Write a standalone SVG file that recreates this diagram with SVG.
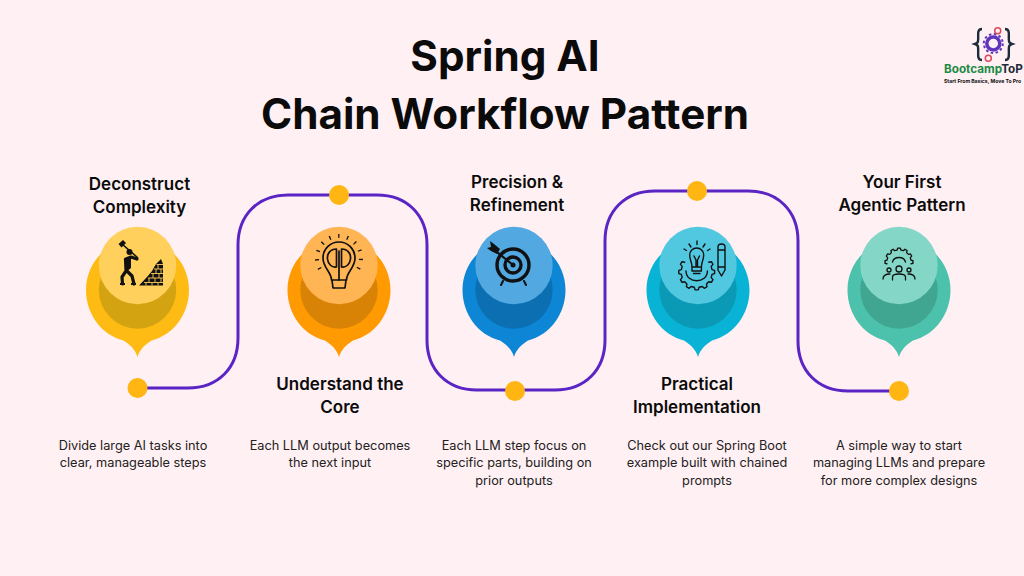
<svg xmlns="http://www.w3.org/2000/svg" width="1024" height="576" viewBox="0 0 1024 576">
<style>
text{font-family:"Inter","Liberation Sans",sans-serif;fill:#0b0b0b;text-anchor:middle}
.title{font-size:42.200px;font-weight:700}
.head{font-size:17px;font-weight:600}
.body{font-size:12.750px;font-weight:400;fill:#222}
.dot{fill:#FFB612}
.ic{fill:none;stroke:#111;stroke-width:1.600;stroke-linecap:round;stroke-linejoin:round}
.icf{fill:#111;stroke:none}
.thick{fill:none;stroke:#111;stroke-width:3.400;stroke-linecap:round;stroke-linejoin:round}
</style>
<defs>
<path id="pinbody" d="M0 67C-2 60-7 55-14 50.500C-36 45-51.500 24-51.500 0C-51.500-28.400-28.400-51.500 0-51.500C28.400-51.500 51.500-28.400 51.500 0C51.500 24 36 45 14 50.500C7 55 2 60 0 67Z"/>
</defs>
<rect width="1024" height="576" fill="#FFF0F3"/>
<g id="title"><text class="title" x="505" y="71">Spring AI</text><text class="title" x="505" y="129">Chain Workflow Pattern</text></g>
<g id="logo">
<path d="M982 29C976 29 979 37 978 41C978 43 975 44 975 44C975 44 978 45 978 47C979 52 976 60 982 60" fill="none" stroke="#1d2a3a" stroke-width="2.400"/>
<path d="M1005 29C1011 29 1008 37 1009 41C1009 43 1012 44 1012 44C1012 44 1009 45 1009 47C1008 52 1011 60 1005 60" fill="none" stroke="#1d2a3a" stroke-width="2.400"/>
<circle cx="993.300" cy="43.500" r="6.500" fill="none" stroke="#5f35bd" stroke-width="3.500"/><circle cx="993.300" cy="43.500" r="9.500" fill="none" stroke="#5f35bd" stroke-width="2" stroke-dasharray="2.500 2.500"/>
<circle cx="997.700" cy="30.700" r="3" fill="#FFF0F3" stroke="#e0485a" stroke-width="1.500"/><circle cx="988.300" cy="58.300" r="3" fill="#FFF0F3" stroke="#e0485a" stroke-width="1.500"/>
<text x="944" y="72.700" style="text-anchor:start;font-size:11.700px;font-weight:700;fill:#1c8a45">Bootcamp<tspan fill="#1d2a3a">ToP</tspan></text>
<text x="944" y="82.700" style="text-anchor:start;font-size:5.100px;font-weight:700">Start From Basics, Move To Pro</text>
</g>
<g id="connectors">
<path d="M137 388H188C218 388 238 368 238 338V245C238 215 258 195 288 195H377C407 195 427 215 427 245V340C427 370 447 390 477 390H555C585 390 605 370 605 340V241C605 211 625 191 655 191H748C778 191 798 211 798 241V341C798 371 818 391 848 391H899" fill="none" stroke="#5A25C4" stroke-width="3"/>
</g>
<g id="dots"><circle class="dot" cx="137.500" cy="388" r="10"/><circle class="dot" cx="339" cy="195" r="10"/><circle class="dot" cx="515" cy="391" r="10"/><circle class="dot" cx="697" cy="191" r="10"/><circle class="dot" cx="899" cy="391" r="10"/></g>
<g id="node1">
<use href="#pinbody" x="137.500" y="290" fill="#FDBB14"/><circle cx="137.500" cy="290" r="38.700" fill="#D4A312"/><circle cx="137.500" cy="265.500" r="38.700" fill="#FFD05C"/>
<path d="M122 244L138 258" fill="none" stroke="#111" stroke-width="1.600"/>
<path class="icf" d="M118.500 244L123 240L126 243L121.500 247.500Z"/>
<circle class="icf" cx="129.500" cy="252" r="3"/>
<path class="thick" d="M126 259L131 257L137 259M125.500 259L126 270M126 271L122 277L122.500 284M127 271L132 276L134 284" style="stroke-width:3.200"/>
<path class="icf" d="M125 259L131 257L131 268L126 272Z"/><path class="icf" d="M120 285H125V283H120ZM131 285H136V283H131Z"/>
<path class="icf" d="M139 285.500L147 277L152 271L156 264L161 259L163 264L163 285.500Z"/>
<path d="M144 282.500H163.500M148 278H163.500M151 273.500H163.500M154 269H163.500M156.500 264.500H163.500M146 285.500V282.500M152 285.500V282.500M158 285.500V282.500M149 282.500V278M155 282.500V278M161 282.500V278M153 278V273.500M159 278V273.500M156 273.500V269M161 273.500V269M158 269V264.500" fill="none" stroke="#FFD05C" stroke-width=".9"/>
<text class="head" x="139.500" y="190">Deconstruct</text><text class="head" x="139.500" y="213">Complexity</text>
</g>
<g id="node2">
<use href="#pinbody" x="339" y="290" fill="#FF9A03"/><circle cx="339" cy="290" r="38.700" fill="#D98306"/><circle cx="339" cy="265.500" r="38.700" fill="#FFB553"/>
<g class="ic" style="stroke-width:1.700"><path d="M332 280H346L345 288H333ZM331.500 280C331.500 272 323 268 323 258A16 16 0 1 1 355 258C355 268 346.500 272 346.500 280"/><path d="M339 251V280M336.500 249C330 249 327 254 327.500 259C328 264 332 268 336.500 267ZM341.500 249C348 249 351 254 350.500 259C350 264 346 268 341.500 267Z"/></g>
<path d="M319.900 269A22 22 0 1 1 358.100 269" fill="none" stroke="#111" stroke-width="4" stroke-dasharray="1.300 7.700"/>
<text class="head" x="340" y="390">Understand the</text><text class="head" x="340" y="413">Core</text>
</g>
<g id="node3">
<use href="#pinbody" x="514" y="290" fill="#0D86D6"/><circle cx="514" cy="290" r="38.700" fill="#0B6FB2"/><circle cx="514" cy="265.500" r="38.700" fill="#52A8E0"/>
<circle class="thick" cx="513" cy="265" r="16"/><circle class="thick" cx="513" cy="265" r="8"/><circle class="icf" cx="513" cy="265" r="2.500"/>
<path class="thick" style="stroke-width:2.200" d="M492 248L513 265"/><path class="icf" d="M490 241L494 244L500 249L497 254L491 251L487 248L491 247Z"/><path class="thick" style="stroke-width:2" d="M503 281L501 285M524 281L526 285"/>
<text class="head" x="517" y="188">Precision &amp;</text><text class="head" x="517" y="211">Refinement</text>
</g>
<g id="node4">
<use href="#pinbody" x="698" y="290" fill="#09B3D5"/><circle cx="698" cy="290" r="38.700" fill="#0A9AB6"/><circle cx="698" cy="265.500" r="38.700" fill="#52C8E0"/>
<g class="ic" style="stroke-width:1.400">
<path d="M708.700 262.200L711.400 261.700L713 264.400L711.200 266.400L712 269.600L714.600 270.400L714.600 273.600L712 274.400L711.200 277.600L713 279.600L711.400 282.300L708.700 281.800L706.500 284L707 286.700L704.300 288.300L702.300 286.500L699.100 287.300L698.300 289.900L695.100 289.900L694.300 287.300L691.100 286.500L689.100 288.300L686.400 286.700L686.900 284L684.700 281.800L682 282.300L680.400 279.600L682.200 277.600L681.400 274.400L678.800 273.600L678.800 270.400L681.400 269.600L682.200 266.400L680.400 264.400L682 261.700L684.700 262.200"/>
<path d="M686 271C686 284 707.400 284 707.400 271"/>
<path d="M692 267C692 262 689.700 260 689.700 255A7 7 0 1 1 703.700 255C703.700 260 701.400 262 701.400 267ZM692 267V271H701.400V267M693.500 273.500H700M694 256L696 260V267M699.500 256L697.500 260V267"/>
<path d="M689 244L691 247M697 241V244.500M705 244L703 247M684 249L686.500 250.500M710 249L707.500 250.500"/>
<path d="M718 247C718 243 725 243 725 247V270L721.500 276L718 270ZM718 250H725M718 267H725"/></g>
<text class="head" x="697" y="390">Practical</text><text class="head" x="697" y="413">Implementation</text>
</g>
<g id="node5">
<use href="#pinbody" x="899" y="290" fill="#4CC2AC"/><circle cx="899" cy="290" r="38.700" fill="#40A692"/><circle cx="899" cy="265.500" r="38.700" fill="#84D6C6"/>
<g class="ic" style="stroke-width:1.300">
<path transform="translate(899 262) scale(.78) translate(-696.700 -272)" style="stroke-width:1.700" d="M712 274.400L714.600 273.600L714.600 270.400L712 269.600L711.200 266.400L713 264.400L711.400 261.700L708.700 262.200L706.500 260L707 257.300L704.300 255.700L702.300 257.500L699.100 256.700L698.300 254.100L695.100 254.100L694.300 256.700L691.100 257.500L689.100 255.700L686.400 257.300L686.900 260L684.700 262.200L682 261.700L680.400 264.400L682.200 266.400L681.400 269.600L678.800 270.400L678.800 273.600L681.400 274.400"/>
<path d="M892.500 262C894 256 904 256 905.500 262"/><circle cx="899" cy="269" r="3"/><circle cx="889" cy="270" r="2"/><circle cx="909" cy="270" r="2"/><path d="M892.500 280V277C892.500 273 905.500 273 905.500 277V280M883 279C883 274 888 274 890 274M915 279C915 274 910 274 908 274"/></g>
<text class="head" x="902" y="188">Your First</text><text class="head" x="902" y="211">Agentic Pattern</text>
</g>
<g id="descriptions">
<text class="body" x="133" y="449.500">Divide large AI tasks into</text><text class="body" x="133" y="467">clear, manageable steps</text>
<text class="body" x="330" y="449.500">Each LLM output becomes</text><text class="body" x="330" y="467">the next input</text>
<text class="body" x="514" y="449.500">Each LLM step focus on</text><text class="body" x="514" y="467">specific parts, building on</text><text class="body" x="514" y="484.500">prior outputs</text>
<text class="body" x="707" y="449.500">Check out our Spring Boot</text><text class="body" x="707" y="467">example built with chained</text><text class="body" x="707" y="484.500">prompts</text>
<text class="body" x="899" y="449.500">A simple way to start</text><text class="body" x="899" y="467">managing LLMs and prepare</text><text class="body" x="899" y="484.500">for more complex designs</text>
</g>
</svg>
